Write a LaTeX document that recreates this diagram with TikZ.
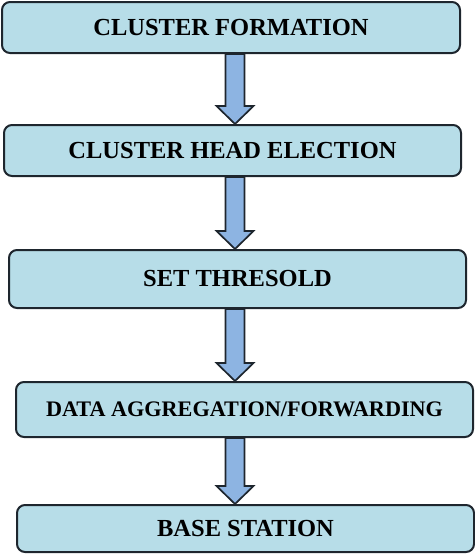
\documentclass[tikz,border=0pt]{standalone}
\usepackage{fontspec}
\setmainfont{Liberation Serif}
\usetikzlibrary{calc}
\definecolor{boxfill}{HTML}{B7DDE8}
\definecolor{arrfill}{HTML}{8DB4E2}
\definecolor{edge}{HTML}{1E262E}
\newcommand{\blockarrow}[2]{
	\draw[blockarr] let \p1=(#1.south -| ax), \p2=(#2.north -| ax) in
		(\x1-9.5pt,\y1) -- (\x1+9.5pt,\y1) -- (\x1+9.5pt,\y2+18pt) -- (\x1+18.5pt,\y2+18pt)
		-- (\x2,\y2) -- (\x1-18.5pt,\y2+18pt) -- (\x1-9.5pt,\y2+18pt) -- cycle;
}
\begin{document}
\begin{tikzpicture}[x=1pt, y=-1pt,
		stage/.style={draw=edge, line width=2pt, fill=boxfill, rounded corners=8pt, minimum width=457pt, inner sep=0pt, font=\bfseries\fontsize{24.5}{28}\selectfont},
		blockarr/.style={draw=edge, line width=1.7pt, fill=arrfill, line join=miter}]
		\useasboundingbox (0,0) rectangle (474,554);
		
		%stages
		\node[stage, minimum width=458pt, minimum height=51pt] (form) at (231, 27.5){CLUSTER FORMATION};
		\node[stage, minimum height=51pt] (head) at (232.5, 150.5){CLUSTER HEAD ELECTION};
		\node[stage, minimum height=58pt] (thres) at (237.5, 279){SET THRESOLD};
		\node[stage, minimum height=55pt, font=\bfseries\fontsize{22.2}{26}\selectfont] (aggr) at (244.5, 409.5){DATA AGGREGATION/FORWARDING};
		\node[stage, minimum height=47pt] (base) at (245.5, 528.5){BASE STATION};
		
		%arrows
		\coordinate (ax) at (235, 0);
		\blockarrow{form}{head}
		\blockarrow{head}{thres}
		\blockarrow{thres}{aggr}
		\blockarrow{aggr}{base}
		\end{tikzpicture}
\end{document}
